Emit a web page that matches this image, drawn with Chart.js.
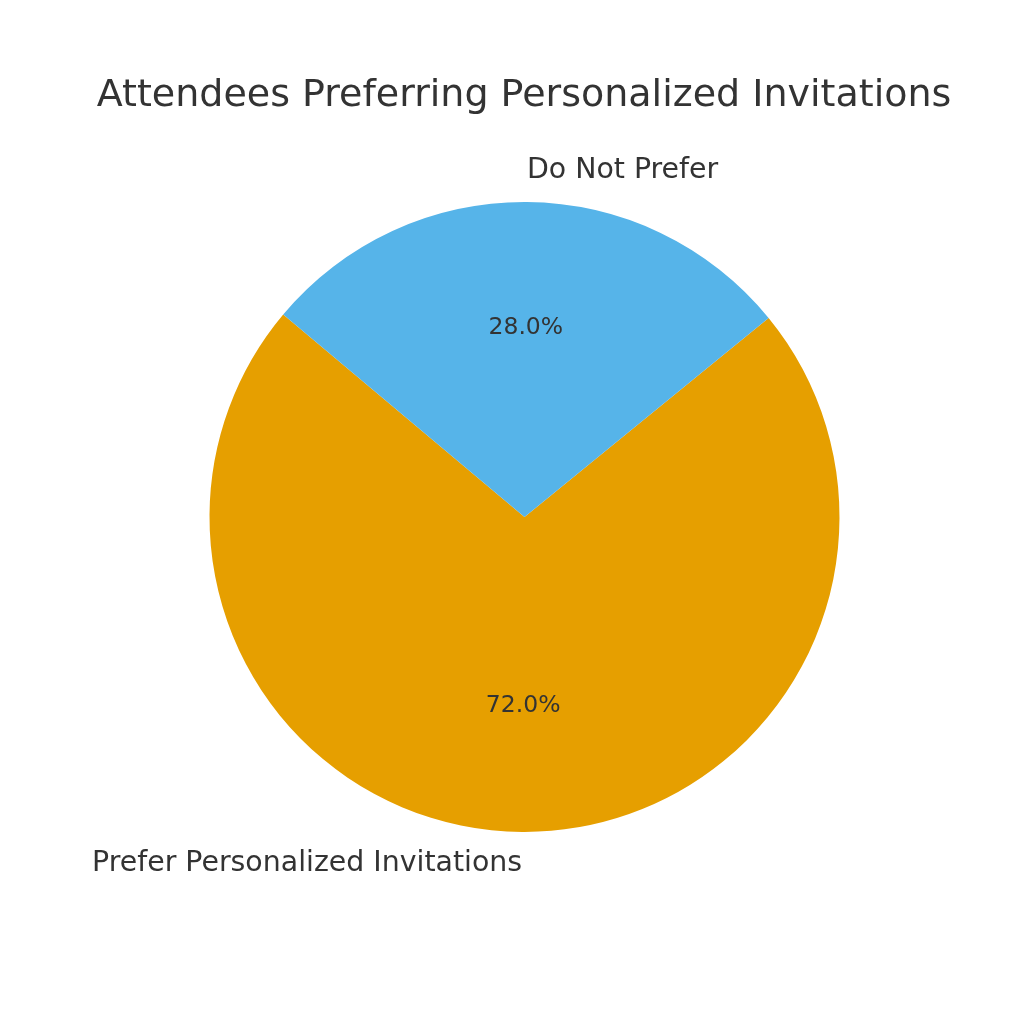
<!DOCTYPE html>
<html>
<head>
<meta charset="utf-8">
<script src="https://cdn.jsdelivr.net/npm/chart.js@4"></script>
<style>
html,body{margin:0;padding:0;background:#fff;}
#wrap{width:1024px;height:1024px;}
</style>
</head>
<body>
<div id="wrap"><canvas id="c" width="1024" height="1024"></canvas></div>
<script>
const titleText = "Attendees Preferring Personalized Invitations";
const categories = ["Prefer Personalized Invitations", "Do Not Prefer"];
const values = [72, 28];
const colors = ["#E69F00", "#56B4E9"];

const TEXT = "#333333";
const FONT = "'DejaVu Sans', sans-serif";

const labelPlugin = {
  id: "pieLabels",
  afterDraw(chart) {
    const ctx = chart.ctx;
    ctx.save();
    ctx.fillStyle = TEXT;
    // title
    ctx.font = "38px " + FONT;
    ctx.textAlign = "center";
    ctx.textBaseline = "middle";
    ctx.fillText(titleText, 524, 96);
    const meta = chart.getDatasetMeta(0);
    const total = values.reduce((a, b) => a + b, 0);
    meta.data.forEach((arc, i) => {
      const p = arc.getProps(["x", "y", "startAngle", "endAngle", "outerRadius"], true);
      const mid = (p.startAngle + p.endAngle) / 2;
      const r = p.outerRadius;
      const cx = Math.cos(mid), cy = Math.sin(mid);
      // outer label
      ctx.font = "28.4px " + FONT;
      ctx.textBaseline = "middle";
      ctx.textAlign = cx > 0 ? "left" : "right";
      ctx.fillText(categories[i], p.x + cx * r * 1.1, p.y + cy * r * 1.1);
      // percentage
      ctx.font = "23.5px " + FONT;
      ctx.textAlign = "center";
      ctx.fillText((values[i] / total * 100).toFixed(1) + "%", p.x + cx * r * 0.6, p.y + cy * r * 0.6);
    });
    ctx.restore();
  }
};

new Chart(document.getElementById("c"), {
  type: "pie",
  data: {
    labels: categories,
    datasets: [{
      data: values,
      backgroundColor: colors,
      borderWidth: 0
    }]
  },
  options: {
    responsive: false,
    animation: false,
    rotation: 50.8,
    layout: { padding: { left: 209, right: 184, top: 202, bottom: 192 } },
    plugins: {
      legend: { display: false },
      tooltip: { enabled: false },
      title: { display: false }
    }
  },
  plugins: [labelPlugin]
});
</script>
</body>
</html>
